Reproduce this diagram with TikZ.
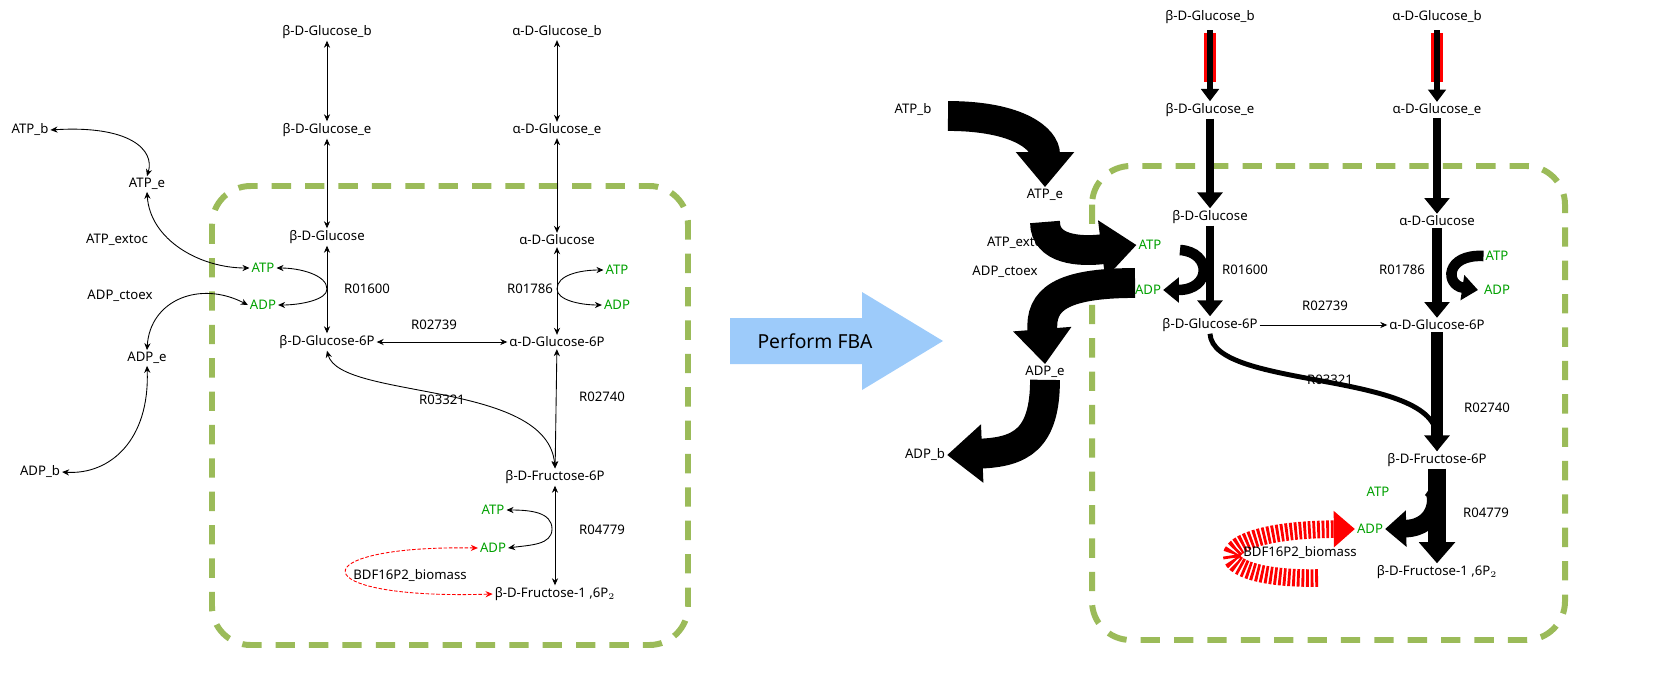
\documentclass[tikz,border=0pt]{standalone}
\usepackage{fontspec}
\setmainfont{Noto Sans}
\usetikzlibrary{arrows.meta}
\definecolor{gbox}{HTML}{9BBB59}
\definecolor{gtxt}{HTML}{00A000}
\definecolor{fba}{HTML}{9DCBFA}
\begin{document}
\begin{tikzpicture}[x=0.02cm,y=-0.02cm,
  every node/.style={font=\fontsize{7.5}{9}\selectfont,inner sep=1pt},
  g/.style={text=gtxt},
  thin2/.style={line width=0.5pt,{Stealth[length=4pt,width=3.5pt]}-{Stealth[length=4pt,width=3.5pt]}},
  one/.style={line width=0.5pt,-{Stealth[length=4pt,width=3.5pt]}},
  box/.style={gbox,line width=3.4pt,dash pattern=on 11pt off 8pt,rounded corners=22pt},
  big/.style={line width=17pt,-{Triangle[length=20pt,width=32pt]}},
  mid/.style={line width=#1,-{Triangle[length=9pt,width=14pt]}},
]
\useasboundingbox (0,0) rectangle (1666,693);
% ---------- left panel ----------
\draw[box] (212,186) rectangle (688,645);
\node (Lbgb) at (327,32) {β-D-Glucose\_b};
\node (Lagb) at (557,32) {α-D-Glucose\_b};
\node (Lbge) at (327,130) {β-D-Glucose\_e};
\node (Lage) at (557,130) {α-D-Glucose\_e};
\node (Lbg) at (327,237) {β-D-Glucose};
\node (Lag) at (557,240) {α-D-Glucose};
\node (Lbg6) at (327,342) {β-D-Glucose-6P};
\node (Lag6) at (557,342) {α-D-Glucose-6P};
\node (Lf6) at (555,477) {β-D-Fructose-6P};
\node (Lf16) at (555,594) {β-D-Fructose-1 ,6P$_2$};
\node (Latpb) at (30,130) {ATP\_b};
\node (Latpe) at (147,184) {ATP\_e};
\node (Latpx) at (117,240) {ATP\_extoc};
\node (Ladpx) at (120,296) {ADP\_ctoex};
\node (Ladpe) at (147,358) {ADP\_e};
\node (Ladpb) at (40,472) {ADP\_b};
\node[g] (Latp1) at (263,268) {ATP};
\node[g] (Ladp1) at (263,305) {ADP};
\node[g] (Latp2) at (617,270) {ATP};
\node[g] (Ladp2) at (617,305) {ADP};
\node[g] (Latp3) at (493,510) {ATP};
\node[g] (Ladp3) at (493,548) {ADP};
\node (Lr1600) at (367,289) {R01600};
\node (Lr1786) at (530,289) {R01786};
\node (Lr2739) at (434,325) {R02739};
\node (Lr3321) at (442,400) {R03321};
\node (Lr2740) at (602,397) {R02740};
\node (Lr4779) at (602,530) {R04779};
\node (Lbio) at (410,575) {BDF16P2\_biomass};
\coordinate (Lc1) at (327,289);
\coordinate (Lc2) at (557,289);
\coordinate (Lc3) at (552,529);
\draw[thin2] (Lbgb) -- (Lbge);
\draw[thin2] (Lbge) -- (Lbg);
\draw[thin2] (Lbg) -- (Lbg6);
\draw[thin2] (Lagb) -- (Lage);
\draw[thin2] (Lage) -- (Lag);
\draw[thin2] (Lag) -- (Lag6);
\draw[thin2] (Lbg6) -- (Lag6);
\draw[thin2] (Lag6) -- (Lf6);
\draw[thin2] (Lf6) -- (Lf16);
\draw[thin2] (Lbg6.south) .. controls (340,400) and (548,380) .. (Lf6.north);
\draw[thin2] (Latpb.east) .. controls (130,125) and (155,150) .. (Latpe.north);
\draw[thin2] (Latpe.south) .. controls (150,240) and (200,268) .. (Latp1.west);
\draw[thin2] (Ladp1.west) .. controls (200,280) and (150,300) .. (Ladpe.north);
\draw[thin2] (Ladpe.south) .. controls (150,440) and (110,475) .. (Ladpb.east);
\draw[one] (Lc1) .. controls (327,275) and (300,268) .. (Latp1.east);
\draw[one] (Lc1) .. controls (327,300) and (300,305) .. (Ladp1.east);
\draw[one] (Lc2) .. controls (557,275) and (580,270) .. (Latp2.west);
\draw[one] (Lc2) .. controls (557,300) and (580,305) .. (Ladp2.west);
\draw[one] (Lc3) .. controls (552,512) and (530,510) .. (Latp3.east);
\draw[one] (Lc3) .. controls (552,545) and (530,545) .. (Ladp3.east);
\draw[red,line width=0.5pt,dash pattern=on 2pt off 1pt,{Stealth[length=4pt,width=3.5pt]}-{Stealth[length=4pt,width=3.5pt]}]
  (Ladp3.west) .. controls (300,545) and (300,600) .. (Lf16.west);
% ---------- FBA arrow ----------
\fill[fba] (730,318) -- (862,318) -- (862,292) -- (943,341) -- (862,390) -- (862,364) -- (730,364) -- cycle;
\node[font=\fontsize{11}{13}\selectfont] (fbalab) at (815,341) {Perform FBA};
% ---------- right panel ----------
\draw[box] (1092,166) rectangle (1565,640);
\node (Rbgb) at (1210,17) {β-D-Glucose\_b};
\node (Ragb) at (1437,17) {α-D-Glucose\_b};
\node (Rbge) at (1210,110) {β-D-Glucose\_e};
\node (Rage) at (1437,110) {α-D-Glucose\_e};
\node (Rbg) at (1210,217) {β-D-Glucose};
\node (Rag) at (1437,221) {α-D-Glucose};
\node (Rbg6) at (1210,325) {β-D-Glucose-6P};
\node (Rag6) at (1437,325) {α-D-Glucose-6P};
\node (Rf6) at (1437,460) {β-D-Fructose-6P};
\node (Rf16) at (1437,572) {β-D-Fructose-1 ,6P$_2$};
\node (Ratpb) at (913,110) {ATP\_b};
\node (Ratpx) at (1018,243) {ATP\_extoc};
\node (Radpx) at (1005,272) {ADP\_ctoex};
\node (Radpb) at (925,455) {ADP\_b};
\node (Ratpe) at (1045,195) {ATP\_e};
\node (Radpe) at (1045,372) {ADP\_e};
\node[g] (Ratp1) at (1150,245) {ATP};
\node[g] (Radp1) at (1148,290) {ADP};
\node[g] (Ratp2) at (1497,256) {ATP};
\node[g] (Radp2) at (1497,290) {ADP};
\node[g] (Ratp3) at (1378,492) {ATP};
\node[g] (Radp3) at (1370,529) {ADP};
\node (Rr1600) at (1245,270) {R01600};
\node (Rr1786) at (1402,270) {R01786};
\node (Rr2739) at (1325,306) {R02739};
\node (Rr3321) at (1330,380) {R03321};
\node (Rr2740) at (1487,408) {R02740};
\node (Rr4779) at (1486,513) {R04779};
\draw[red,line width=6.5pt] (1210,33) -- (1210,82);
\draw[red,line width=6.5pt] (1437,33) -- (1437,82);
\draw[line width=3.5pt,-{Triangle[length=7pt,width=10pt]}] (1210,30) -- (Rbge.north);
\draw[line width=3.5pt,-{Triangle[length=7pt,width=10pt]}] (1437,30) -- (Rage.north);
\draw[mid=4.5pt] (Rbge.south) -- (Rbg.north);
\draw[mid=4.5pt] (Rage.south) -- (Rag.north);
\draw[mid=4.5pt] (Rbg.south) -- (Rbg6.north);
\draw[mid=5.5pt] (Rag.south) -- (Rag6.north);
\draw[one] (Rbg6.east) -- (Rag6.west);
\draw[line width=2.8pt,-{Triangle[length=8pt,width=10pt]}] (Rbg6.south) .. controls (1213,390) and (1437,370) .. (Rf6.north);
\draw[line width=7pt,-{Triangle[length=9pt,width=14pt]}] (Rag6.south) -- (Rf6.north);
\draw[line width=10pt,-{Triangle[length=12pt,width=20pt]}] (Rf6.south) -- (Rf16.north);
\coordinate (Rc3) at (1430,488);
\coordinate (Rbs) at (1318,578);
\draw[line width=6pt,-{Triangle[length=9pt,width=14pt]}] (1180,250) .. controls (1212,252) and (1212,290) .. (Radp1.east);
\draw[line width=6pt,-{Triangle[length=9pt,width=14pt]}] (Ratp2.west) .. controls (1445,254) and (1445,285) .. (1478,290);
\draw[line width=10pt,-{Triangle[length=12pt,width=20pt]}] (Rc3) .. controls (1440,490) and (1440,528) .. (Radp3.east);
\draw[red,line width=10pt,dash pattern=on 1.6pt off 1pt,-{Triangle[length=12pt,width=20pt]}] (Rbs) .. controls (1200,580) and (1200,530) .. (Radp3.west);
\node (Rbio) at (1300,552) {BDF16P2\_biomass};
\draw[big] (948,116) .. controls (1020,116) and (1045,140) .. (Ratpe.north);
\draw[big] (1045,222) .. controls (1045,250) and (1080,252) .. (Ratp1.west);
\draw[big] (1135,283) .. controls (1060,283) and (1040,300) .. (Radpe.north);
\draw[big] (Radpe.south) .. controls (1045,440) and (1020,452) .. (Radpb.east);
\end{tikzpicture}
\end{document}
